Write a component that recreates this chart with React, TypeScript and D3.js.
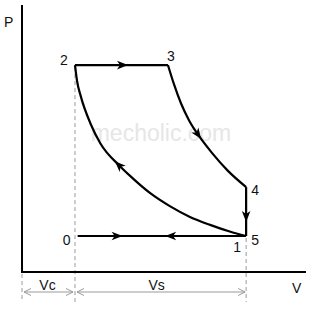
import React, { useEffect, useRef } from "react";
import * as d3 from "d3";

// Volume (units of clearance volume Vc) and pressure (units of P1)
const compressionV = [1.0, 1.04, 1.11, 1.30, 1.48, 1.85, 2.04, 2.42, 2.79, 3.17, 3.55, 3.92, 4.23];
const compressionP = [5.75, 5.3, 4.88, 4.1, 3.57, 2.94, 2.67, 2.19, 1.83, 1.53, 1.31, 1.125, 1.0];
const expansionV = [2.755, 2.868, 3.0, 3.151, 3.34, 3.585, 3.887, 4.23];
const expansionP = [5.75, 5.22, 4.69, 4.22, 3.78, 3.31, 2.81, 2.36];

const stateNames = ["0", "1", "2", "3", "4", "5"];
const stateV = [1.05, 4.23, 1.0, 2.755, 4.23, 4.23];
const stateP = [1.0, 1.0, 5.75, 5.75, 2.36, 1.0];

const Vc = 1.0;
const Vtotal = 4.23;
const axisMaxV = 5.36;
const axisMaxP = 7.42;

export default function App() {
  const ref = useRef<SVGSVGElement | null>(null);

  useEffect(() => {
    const svg = d3.select(ref.current);
    svg.selectAll("*").remove();
    const x = d3.scaleLinear().domain([0, axisMaxV]).range([22, 306]);
    const y = d3.scaleLinear().domain([0, axisMaxP]).range([272, 5]);
    const font = "'Liberation Sans', Arial, sans-serif";

    // watermark
    svg.append("text").attr("x", 161).attr("y", 141).attr("text-anchor", "middle")
      .attr("font-family", font).attr("font-size", 23).attr("fill", "#e6e6e6").text("mecholic.com");

    const gray = "#9a9a9a";
    // dashed guides
    const dash = (x0: number, y0: number, y1: number) =>
      svg.append("line").attr("x1", x0).attr("x2", x0).attr("y1", y0).attr("y2", y1)
        .attr("stroke", gray).attr("stroke-width", 1).attr("stroke-dasharray", "4,3");
    dash(x(0), y(0) + 2, 302);
    dash(x(Vc), y(stateP[2]) + 2, 305);
    dash(x(Vtotal), y(1) + 2, 302);

    // dimension arrows
    const dimY = 292;
    const dimArrow = (a: number, b: number) => {
      svg.append("line").attr("x1", a).attr("x2", b).attr("y1", dimY).attr("y2", dimY)
        .attr("stroke", gray).attr("stroke-width", 1);
      svg.append("path").attr("d", `M${a + 7},${dimY - 3.5}L${a},${dimY}L${a + 7},${dimY + 3.5}`)
        .attr("fill", "none").attr("stroke", gray).attr("stroke-width", 1);
      svg.append("path").attr("d", `M${b - 7},${dimY - 3.5}L${b},${dimY}L${b - 7},${dimY + 3.5}`)
        .attr("fill", "none").attr("stroke", gray).attr("stroke-width", 1);
    };
    dimArrow(x(0) + 2, x(Vc) - 2);
    dimArrow(x(Vc) + 2, x(Vtotal) - 1);

    // axes
    svg.append("path").attr("d", `M${x(0)},${y(axisMaxP)}L${x(0)},${y(0)}L${x(axisMaxV)},${y(0)}`)
      .attr("fill", "none").attr("stroke", "#000").attr("stroke-width", 2);

    const line = d3.line<[number, number]>().x((d) => x(d[0])).y((d) => y(d[1]));
    const curve = d3.line<[number, number]>().x((d) => x(d[0])).y((d) => y(d[1])).curve(d3.curveMonotoneX);

    const draw = (d: string) =>
      svg.append("path").attr("d", d).attr("fill", "none").attr("stroke", "#000")
        .attr("stroke-width", 2.2).attr("stroke-linejoin", "miter").node() as SVGPathElement;

    const pts = (i: number): [number, number] => [stateV[i], stateP[i]];
    const p23 = draw(line([pts(2), pts(3)])!);
    const exp = draw(curve(expansionV.map((v, i) => [v, expansionP[i]] as [number, number]))!);
    const p45 = draw(line([pts(4), pts(5)])!);
    const comp = draw(curve(compressionV.map((v, i) => [v, compressionP[i]] as [number, number]))!);
    const p01 = draw(line([pts(0), pts(1)])!);

    // arrowheads: find point along path at given pixel coordinate
    const arrow = (path: SVGPathElement, target: number, useY: boolean, reverse: boolean) => {
      const L = path.getTotalLength();
      let best = 0, bd = Infinity;
      for (let l = 0; l <= L; l += 0.5) {
        const p = path.getPointAtLength(l);
        const dd = Math.abs((useY ? p.y : p.x) - target);
        if (dd < bd) { bd = dd; best = l; }
      }
      const tip = path.getPointAtLength(best);
      const back = path.getPointAtLength(reverse ? Math.min(L, best + 11) : Math.max(0, best - 11));
      const dx = tip.x - back.x, dy = tip.y - back.y;
      const len = Math.hypot(dx, dy) || 1;
      const ux = dx / len, uy = dy / len;
      const bx = tip.x - ux * 11, by = tip.y - uy * 11;
      const w = 4.3;
      svg.append("path")
        .attr("d", `M${tip.x},${tip.y}L${bx - uy * w},${by + ux * w}L${tip.x - ux * 8},${tip.y - uy * 8}L${bx + uy * w},${by - ux * w}Z`)
        .attr("fill", "#000");
    };
    arrow(p23, x(2.0), false, false);
    arrow(exp, x(3.38), false, false);
    arrow(p45, y(1.39), true, false);
    arrow(comp, x(1.75), false, true);
    arrow(p01, x(1.9), false, false);
    arrow(p01, x(2.7), false, true);

    // labels
    const txt = (s: string, px: number, py: number, size = 14, anchor = "start") =>
      svg.append("text").attr("x", px).attr("y", py).attr("font-family", font)
        .attr("font-size", size).attr("fill", "#111").attr("text-anchor", anchor).text(s);
    const offs: Record<string, [number, number]> = {
      "0": [-15, 9], "1": [-13, 16], "2": [-15, 0], "3": [-1, -4], "4": [5, 8], "5": [5, 9],
    };
    stateNames.forEach((n, i) => {
      const [ox, oy] = offs[n];
      txt(n, x(stateV[i]) + ox, y(stateP[i]) + oy);
    });
    txt("P", 4, 27);
    txt("V", 292, 293);
    txt("Vc", (x(0) + x(Vc)) / 2 - 1, 290, 14, "middle");
    txt("Vs", (x(Vc) + x(Vtotal)) / 2 - 4, 290, 14, "middle");
  }, []);

  return (
    <svg ref={ref} width={320} height={310}
      style={{ position: "absolute", left: 0, top: 0, background: "#fff" }} />
  );
}
